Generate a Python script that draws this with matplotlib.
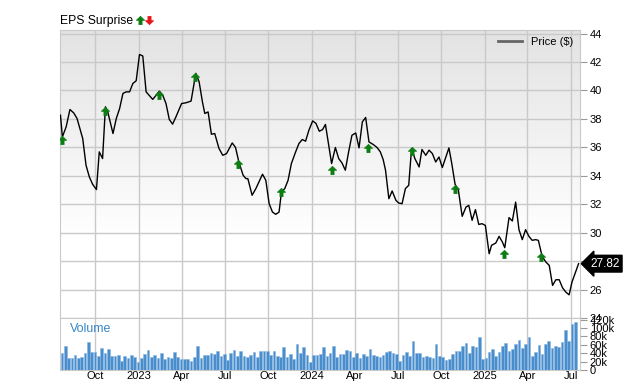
import numpy as np
import pandas as pd
import matplotlib
matplotlib.use("Agg")
import matplotlib.pyplot as plt
from matplotlib.path import Path
from matplotlib.lines import Line2D
from matplotlib.colors import LinearSegmentedColormap

plt.rcParams['font.family'] = ['Liberation Sans', 'DejaVu Sans']

# weekly closing price
price_dates = [
    '2022-07-19', '2022-07-23', '2022-07-31', '2022-08-08', '2022-08-16', '2022-08-23',
    '2022-09-04', '2022-09-11', '2022-09-18', '2022-09-25', '2022-10-03', '2022-10-09',
    '2022-10-16', '2022-10-22', '2022-10-27', '2022-11-07', '2022-11-14', '2022-11-21',
    '2022-11-28', '2022-12-05', '2022-12-12', '2022-12-19', '2022-12-26', '2023-01-02',
    '2023-01-09', '2023-01-16', '2023-01-30', '2023-02-13', '2023-02-20', '2023-02-27',
    '2023-03-06', '2023-03-13', '2023-03-20', '2023-04-01', '2023-04-10', '2023-04-21',
    '2023-05-01', '2023-05-08', '2023-05-15', '2023-05-20', '2023-05-27', '2023-06-03',
    '2023-06-10', '2023-06-19', '2023-06-27', '2023-07-05', '2023-07-17', '2023-07-24',
    '2023-07-31', '2023-08-09', '2023-08-15', '2023-08-19', '2023-08-28', '2023-09-05',
    '2023-09-13', '2023-09-19', '2023-09-26', '2023-10-03', '2023-10-10', '2023-10-17',
    '2023-10-24', '2023-10-29', '2023-11-05', '2023-11-12', '2023-11-19', '2023-11-28',
    '2023-12-05', '2023-12-12', '2023-12-19', '2023-12-26', '2024-01-03', '2024-01-10',
    '2024-01-17', '2024-01-24', '2024-01-30', '2024-02-06', '2024-02-12', '2024-02-20',
    '2024-02-27', '2024-03-05', '2024-03-12', '2024-03-19', '2024-03-26', '2024-04-03',
    '2024-04-10', '2024-04-17', '2024-04-24', '2024-05-01', '2024-05-10', '2024-05-18',
    '2024-05-25', '2024-05-31', '2024-06-05', '2024-06-12', '2024-06-19', '2024-06-27',
    '2024-07-03', '2024-07-10', '2024-07-17', '2024-07-24', '2024-07-30', '2024-08-06',
    '2024-08-15', '2024-08-21', '2024-08-29', '2024-09-05', '2024-09-12', '2024-09-19',
    '2024-09-26', '2024-10-03', '2024-10-10', '2024-10-17', '2024-10-23', '2024-10-30',
    '2024-11-06', '2024-11-14', '2024-11-22', '2024-11-28', '2024-12-05', '2024-12-12',
    '2024-12-19', '2024-12-26', '2025-01-02', '2025-01-10', '2025-01-15', '2025-01-24',
    '2025-01-31', '2025-02-07', '2025-02-12', '2025-02-21', '2025-02-28', '2025-03-07',
    '2025-03-14', '2025-03-21', '2025-03-28', '2025-04-04', '2025-04-11', '2025-04-18',
    '2025-04-24', '2025-05-02', '2025-05-10', '2025-05-17', '2025-05-24', '2025-05-31',
    '2025-06-07', '2025-06-14', '2025-06-21', '2025-06-28', '2025-07-04', '2025-07-11',
    '2025-07-18',
]
price_values = [
    38.26, 36.73, 37.44, 38.66, 38.42, 38.03,
    36.62, 34.74, 33.92, 33.40, 33.03, 35.68,
    35.21, 38.85, 38.49, 36.97, 38.03, 38.73,
    39.79, 39.90, 39.90, 40.49, 40.68, 42.53,
    42.42, 39.90, 39.37, 39.95, 39.67, 39.08,
    37.96, 37.63, 38.14, 39.08, 39.13, 39.25,
    41.20, 40.61, 39.20, 38.38, 38.49, 36.92,
    36.97, 35.92, 35.44, 35.56, 36.31, 35.99,
    34.97, 34.04, 33.80, 33.80, 32.63, 33.10,
    33.68, 34.11, 33.68, 32.04, 31.45, 31.29,
    31.45, 32.86, 33.10, 33.68, 34.86, 35.68,
    36.27, 36.55, 36.43, 37.20, 37.86, 37.68,
    37.13, 37.25, 37.61, 36.15, 34.86, 35.99,
    35.21, 34.90, 34.39, 35.68, 36.85, 37.01,
    35.96, 37.79, 38.10, 36.38, 36.20, 35.99,
    35.68, 35.14, 34.39, 32.39, 32.93, 32.27,
    32.08, 32.04, 33.10, 33.33, 35.92, 35.21,
    34.62, 35.85, 35.44, 35.80, 35.56, 34.97,
    35.32, 34.58, 35.28, 35.96, 34.86, 33.40,
    32.98, 31.15, 31.80, 31.92, 30.87, 31.62,
    30.58, 30.63, 30.51, 28.52, 29.11, 29.27,
    29.74, 29.34, 28.94, 31.06, 30.82, 32.15,
    30.21, 29.51, 30.21, 29.74, 29.46, 29.51,
    29.46, 28.33, 27.93, 27.70, 26.29, 26.69,
    26.69, 26.13, 25.82, 25.63, 26.52, 27.16,
    27.82,
]

# earnings beats (green up arrows)
eps_dates = ['2022-07-23', '2022-10-22', '2023-02-13', '2023-04-30', '2023-07-30', '2023-10-29',
             '2024-02-12', '2024-04-29', '2024-07-30', '2024-10-29', '2025-02-11', '2025-04-30']
eps_levels = [36.50, 38.56, 39.67, 40.94, 34.81, 32.84,
              34.39, 35.92, 35.75, 33.10, 28.47, 28.28]

# weekly volume in thousands
volume_start = '2022-07-22'
volume_k = [
    40, 56, 28, 28, 36, 28, 31, 40, 66, 42, 42, 34, 52, 40, 50, 34, 34, 36, 22, 34,
    28, 36, 30, 18, 28, 38, 48, 30, 36, 28, 40, 26, 30, 28, 42, 30, 26, 26, 26, 22,
    32, 58, 28, 36, 36, 40, 38, 44, 34, 38, 24, 40, 48,
    34, 46, 34, 32, 36, 42, 30, 44, 46, 46, 36, 44, 34, 32, 54, 32, 38, 26, 62, 40,
    54, 36, 20, 36, 36, 38, 54, 34, 40, 58, 32, 38, 38, 48, 44, 32, 40, 28, 38, 34,
    50, 36, 34, 30, 36, 42, 44, 40, 38, 22, 36, 42, 34, 68,
    40, 40, 30, 34, 30, 28, 62, 34, 32, 24, 26, 38, 46, 44, 56, 64, 40, 58, 54, 78,
    26, 28, 42, 50, 34, 42, 56, 64, 44, 50, 62, 71, 52, 62, 78, 34, 42, 60, 39, 62,
    68, 52, 58, 55, 66, 96, 68, 110, 114,
]

tick_dates = ['2022-10-01', '2023-01-01', '2023-04-01', '2023-07-01', '2023-10-01', '2024-01-01',
              '2024-04-01', '2024-07-01', '2024-10-01', '2025-01-01', '2025-04-01', '2025-07-01']
tick_labels = ['Oct', '2023', 'Apr', 'Jul', 'Oct', '2024', 'Apr', 'Jul', 'Oct', '2025', 'Apr', 'Jul']
price_ticks = [24, 26, 28, 30, 32, 34, 36, 38, 40, 42, 44]
volume_ticks = [0, 20, 40, 60, 80, 100, 120]

GREEN = '#0b7d12'
RED = '#e8141b'
GRID = '#c9c9c9'
BLUE = '#4a8dcc'

# arrow marker
UP = Path([(0, 1), (1, 0.05), (0.38, 0.05), (0.38, -1), (-0.38, -1), (-0.38, 0.05), (-1, 0.05), (0, 1)],
          [Path.MOVETO] + [Path.LINETO] * 6 + [Path.CLOSEPOLY])
DOWN = Path(UP.vertices * np.array([1, -1]), UP.codes)

W, H = 640, 382
fig = plt.figure(figsize=(W / 100, H / 100), dpi=100)
rect_p = [60 / W, 1 - 318 / H, 520 / W, 288 / H]
rect_v = [60 / W, 1 - 370 / H, 520 / W, 52 / H]

# gradient background behind price pane
bg = fig.add_axes(rect_p, zorder=-1)
cmap = LinearSegmentedColormap.from_list('bg', ['#e3e3e3', '#ffffff'])
t = np.clip(np.linspace(0, 1, 256) / 0.72, 0, 1).reshape(-1, 1)
bg.imshow(t, cmap=cmap, aspect='auto', extent=[0, 1, 0, 1], vmin=0, vmax=1)
bg.axis('off')

ax = fig.add_axes(rect_p)
ax.set_facecolor('none')
axv = fig.add_axes(rect_v, sharex=ax)

pdates = pd.to_datetime(price_dates)
vdates = pd.date_range(volume_start, periods=len(volume_k), freq='7D')

ax.plot(pdates, price_values, color='black', lw=1.0, zorder=3)
ax.plot(pd.to_datetime(eps_dates), eps_levels, ls='none', marker=UP, ms=6,
        color=GREEN, mec=GREEN, mew=0.5, zorder=4)

axv.bar(vdates, volume_k, width=5.6, color=BLUE, edgecolor='#86b6e0', linewidth=0.4, zorder=3)

ax.set_xlim(pd.Timestamp('2022-07-18'), pd.Timestamp('2025-07-21'))
ax.set_ylim(24, 44.25)
axv.set_ylim(0, 123.6)

ax.set_xticks(pd.to_datetime(tick_dates))
axv.set_xticklabels(tick_labels)
ax.set_yticks(price_ticks)
ax.yaxis.tick_right()
ax.tick_params(axis='y', length=5, color='#999999', labelsize=8, pad=2)
ax.tick_params(axis='x', length=0, labelbottom=False)
ax.grid(True, color=GRID, lw=1, zorder=1)

axv.yaxis.tick_right()
axv.set_yticks(volume_ticks)
axv.set_yticklabels([f'{v}k' if v else '0' for v in volume_ticks])
axv.tick_params(axis='y', length=5, color='#999999', labelsize=8, pad=2)
axv.tick_params(axis='x', length=0, labelsize=8, pad=0.5)
axv.grid(True, axis='x', color=GRID, lw=1, zorder=1)

for a in (ax, axv):
    for s in a.spines.values():
        s.set_color(GRID)
ax.spines['bottom'].set_visible(False)

axv.text(0.019, 0.79, 'Volume', transform=axv.transAxes, color='#3a87c8',
         fontsize=9, va='center')

ax.legend([Line2D([], [], color='#666666', lw=2)], ['Price ($)'], loc='upper right',
          frameon=False, fontsize=8, handlelength=2.2, borderaxespad=0.2)

ax.annotate(f'{price_values[-1]:.2f}', xy=(1, price_values[-1]),
            xycoords=('axes fraction', 'data'), xytext=(18, 0), textcoords='offset points',
            ha='center', va='center', color='white', fontsize=8.5, zorder=6,
            bbox=dict(boxstyle='larrow,pad=0.2', fc='black', ec='black'),
            annotation_clip=False)

fig.text(60 / W, 1 - 21 / H, 'EPS Surprise', fontsize=8.7, va='center')
fig.add_artist(Line2D([140 / W], [1 - 20 / H], marker=UP, ms=6, color=GREEN, mec=GREEN,
                      mew=0.5, transform=fig.transFigure))
fig.add_artist(Line2D([149 / W], [1 - 20 / H], marker=DOWN, ms=6, color=RED, mec=RED,
                      mew=0.5, transform=fig.transFigure))

fig.savefig('out.png', dpi=100)
